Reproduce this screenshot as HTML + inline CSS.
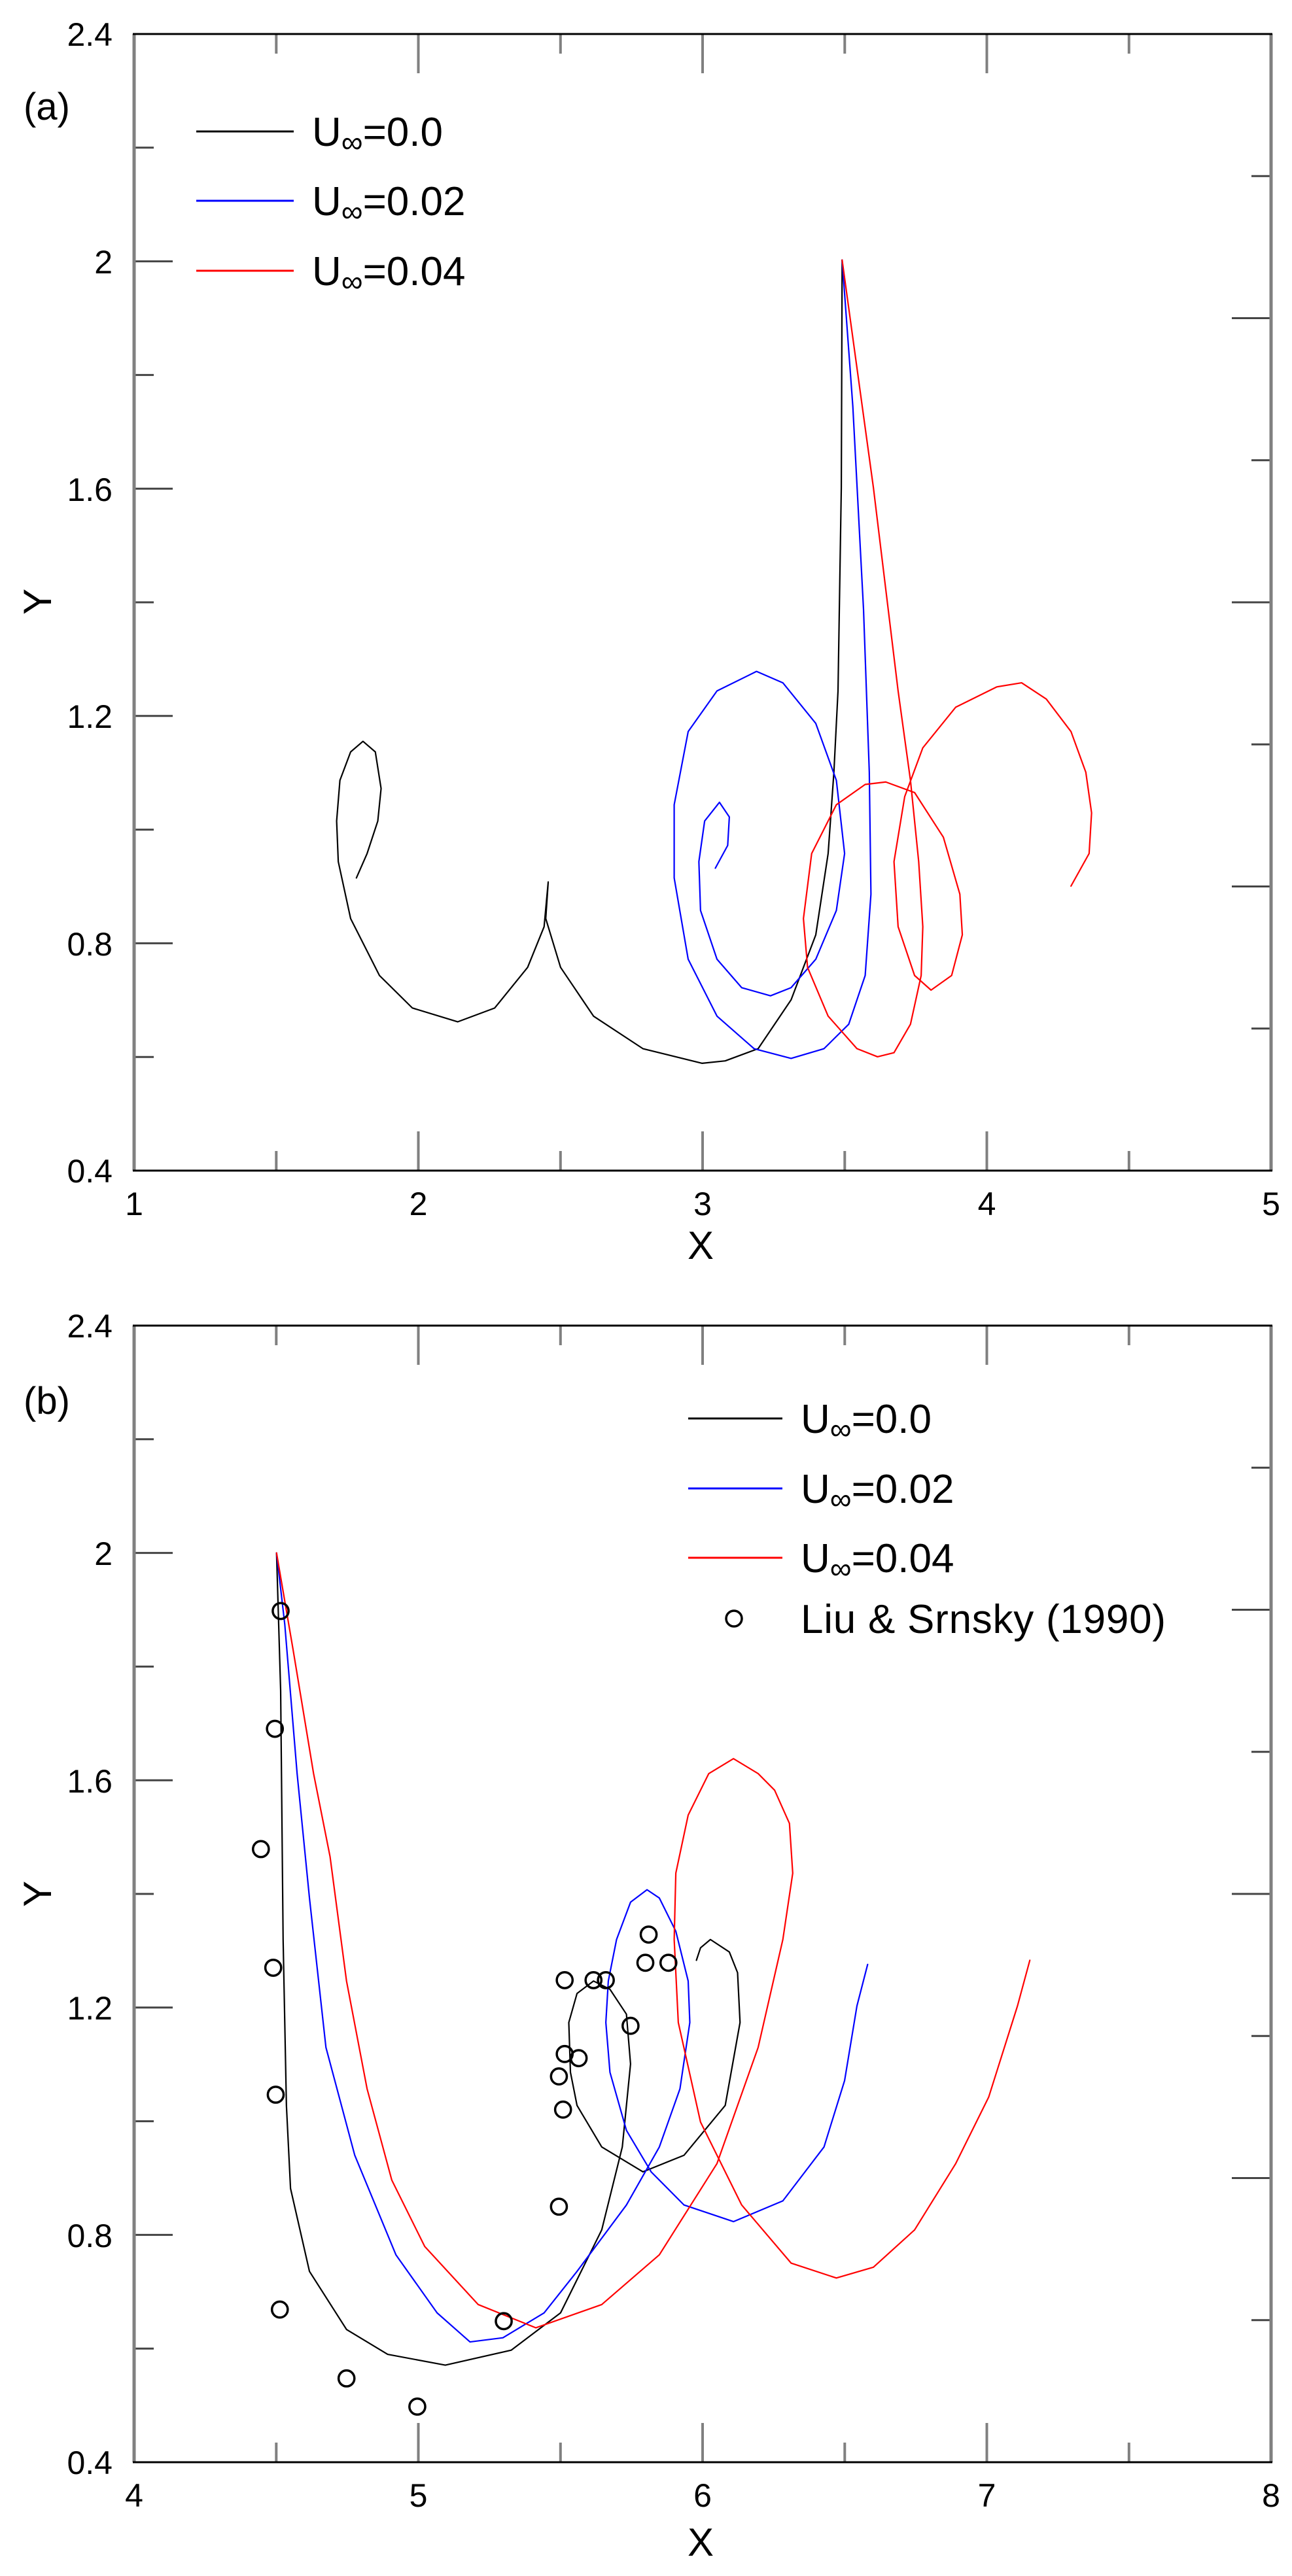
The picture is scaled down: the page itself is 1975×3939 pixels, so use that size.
<!DOCTYPE html>
<html><head><meta charset="utf-8"><style>
html,body{margin:0;padding:0;background:#fff;}
svg{display:block;}
text{font-family:"Liberation Sans",sans-serif;fill:#000;}
</style></head><body>
<svg width="1975" height="3939" viewBox="0 0 1975 3939" xmlns="http://www.w3.org/2000/svg">
<rect width="1975" height="3939" fill="#fff"/>

<!-- ===== PANEL A ===== -->
<g stroke-linecap="butt">
  <!-- left ticks (0.2 step) -->
  <g stroke="#444" stroke-width="3">
    <line x1="205" y1="225.8" x2="235" y2="225.8"/>
    <line x1="205" y1="399.6" x2="264" y2="399.6"/>
    <line x1="205" y1="573.4" x2="235" y2="573.4"/>
    <line x1="205" y1="747.2" x2="264" y2="747.2"/>
    <line x1="205" y1="921" x2="235" y2="921"/>
    <line x1="205" y1="1094.8" x2="264" y2="1094.8"/>
    <line x1="205" y1="1268.6" x2="235" y2="1268.6"/>
    <line x1="205" y1="1442.4" x2="264" y2="1442.4"/>
    <line x1="205" y1="1616.2" x2="235" y2="1616.2"/>
    <!-- right ticks (0.25 step) -->
    <line x1="1913" y1="269.3" x2="1943" y2="269.3"/>
    <line x1="1883" y1="486.5" x2="1943" y2="486.5"/>
    <line x1="1913" y1="703.8" x2="1943" y2="703.8"/>
    <line x1="1883" y1="921" x2="1943" y2="921"/>
    <line x1="1913" y1="1138.3" x2="1943" y2="1138.3"/>
    <line x1="1883" y1="1355.5" x2="1943" y2="1355.5"/>
    <line x1="1913" y1="1572.8" x2="1943" y2="1572.8"/>
  </g>
  <g stroke="#808080" stroke-width="4">
    <!-- top ticks -->
    <line x1="422.3" y1="52" x2="422.3" y2="82"/>
    <line x1="639.5" y1="52" x2="639.5" y2="112"/>
    <line x1="856.8" y1="52" x2="856.8" y2="82"/>
    <line x1="1074" y1="52" x2="1074" y2="112"/>
    <line x1="1291.3" y1="52" x2="1291.3" y2="82"/>
    <line x1="1508.5" y1="52" x2="1508.5" y2="112"/>
    <line x1="1725.8" y1="52" x2="1725.8" y2="82"/>
    <!-- bottom ticks -->
    <line x1="422.3" y1="1790" x2="422.3" y2="1760"/>
    <line x1="639.5" y1="1790" x2="639.5" y2="1730"/>
    <line x1="856.8" y1="1790" x2="856.8" y2="1760"/>
    <line x1="1074" y1="1790" x2="1074" y2="1730"/>
    <line x1="1291.3" y1="1790" x2="1291.3" y2="1760"/>
    <line x1="1508.5" y1="1790" x2="1508.5" y2="1730"/>
    <line x1="1725.8" y1="1790" x2="1725.8" y2="1760"/>
  </g>
  <line x1="205" y1="52" x2="205" y2="1790" stroke="#808080" stroke-width="5"/>
  <line x1="1943" y1="52" x2="1943" y2="1790" stroke="#808080" stroke-width="5"/>
  <line x1="203" y1="52" x2="1945" y2="52" stroke="#000" stroke-width="3"/>
  <line x1="203" y1="1790" x2="1945" y2="1790" stroke="#000" stroke-width="3"/>
</g>
<g font-size="50" text-anchor="end">
  <text x="172" y="70">2.4</text>
  <text x="172" y="418">2</text>
  <text x="172" y="766">1.6</text>
  <text x="172" y="1113">1.2</text>
  <text x="172" y="1461">0.8</text>
  <text x="172" y="1808">0.4</text>
</g>
<g font-size="50" text-anchor="middle">
  <text x="205" y="1858">1</text>
  <text x="639.5" y="1858">2</text>
  <text x="1074" y="1858">3</text>
  <text x="1508.5" y="1858">4</text>
  <text x="1943" y="1858">5</text>
  <text x="1071" y="1925" font-size="60">X</text>
</g>
<text x="0" y="0" font-size="60" text-anchor="middle" transform="translate(78,920) rotate(-90)">Y</text>
<text x="36" y="183" font-size="58">(a)</text>
<!-- legend a -->
<line x1="300" y1="201" x2="449" y2="201" stroke="#000" stroke-width="3"/>
<line x1="300" y1="307" x2="449" y2="307" stroke="#0000ff" stroke-width="3"/>
<line x1="300" y1="414" x2="449" y2="414" stroke="#ff0000" stroke-width="3"/>
<g font-size="62">
  <text x="477" y="223">U<tspan font-size="46" dy="10">∞</tspan><tspan dy="-10">=0.0</tspan></text>
  <text x="477" y="329">U<tspan font-size="46" dy="10">∞</tspan><tspan dy="-10">=0.02</tspan></text>
  <text x="477" y="436">U<tspan font-size="46" dy="10">∞</tspan><tspan dy="-10">=0.04</tspan></text>
</g>
<!-- curves a : display coords -->
<g transform="translate(205,52) scale(1.2585,1.2432) translate(-162,-42)" fill="none" stroke-width="2.2" stroke-linejoin="round" stroke-linecap="round">
  <polyline vector-effect="non-scaling-stroke" stroke="#000" points="1022,320 1021,600 1017,850 1012,950 1005,1050 990,1150 960,1230 920,1290 880,1305 852,1308 780,1290 720,1250 680,1190 662,1130 665,1085 660,1140 640,1190 600,1240 555,1257 500,1240 460,1200 425,1130 410,1060 408,1010 412,960 425,925 440,912 455,925 462,970 458,1010 445,1050 432,1080"/>
  <polyline vector-effect="non-scaling-stroke" stroke="#0000ff" points="1022,320 1035,500 1048,750 1055,950 1057,1100 1050,1200 1030,1260 1000,1290 960,1302 915,1290 870,1250 835,1180 818,1080 818,990 835,900 870,850 918,826 950,840 990,890 1015,960 1025,1050 1015,1120 990,1180 960,1215 935,1225 900,1215 870,1180 850,1120 848,1060 855,1010 873,987 885,1005 883,1040 868,1068"/>
  <polyline vector-effect="non-scaling-stroke" stroke="#ff0000" points="1022,320 1060,600 1090,850 1105,960 1115,1060 1120,1140 1118,1200 1105,1260 1085,1295 1065,1300 1040,1290 1005,1250 980,1190 975,1130 985,1050 1015,990 1050,965 1075,962 1110,975 1145,1030 1165,1100 1168,1150 1155,1200 1130,1218 1110,1200 1090,1140 1085,1060 1098,980 1120,920 1160,870 1210,845 1240,840 1270,860 1300,900 1318,950 1325,1000 1322,1050 1300,1090"/>
</g>

<!-- ===== PANEL B ===== -->
<g stroke-linecap="butt">
  <g stroke="#444" stroke-width="3">
    <line x1="205" y1="2200.8" x2="235" y2="2200.8"/>
    <line x1="205" y1="2374.6" x2="264" y2="2374.6"/>
    <line x1="205" y1="2548.4" x2="235" y2="2548.4"/>
    <line x1="205" y1="2722.2" x2="264" y2="2722.2"/>
    <line x1="205" y1="2896" x2="235" y2="2896"/>
    <line x1="205" y1="3069.8" x2="264" y2="3069.8"/>
    <line x1="205" y1="3243.6" x2="235" y2="3243.6"/>
    <line x1="205" y1="3417.4" x2="264" y2="3417.4"/>
    <line x1="205" y1="3591.2" x2="235" y2="3591.2"/>
    <line x1="1913" y1="2244.3" x2="1943" y2="2244.3"/>
    <line x1="1883" y1="2461.5" x2="1943" y2="2461.5"/>
    <line x1="1913" y1="2678.8" x2="1943" y2="2678.8"/>
    <line x1="1883" y1="2896" x2="1943" y2="2896"/>
    <line x1="1913" y1="3113.3" x2="1943" y2="3113.3"/>
    <line x1="1883" y1="3330.5" x2="1943" y2="3330.5"/>
    <line x1="1913" y1="3547.8" x2="1943" y2="3547.8"/>
  </g>
  <g stroke="#808080" stroke-width="4">
    <line x1="422.3" y1="2027" x2="422.3" y2="2057"/>
    <line x1="639.5" y1="2027" x2="639.5" y2="2087"/>
    <line x1="856.8" y1="2027" x2="856.8" y2="2057"/>
    <line x1="1074" y1="2027" x2="1074" y2="2087"/>
    <line x1="1291.3" y1="2027" x2="1291.3" y2="2057"/>
    <line x1="1508.5" y1="2027" x2="1508.5" y2="2087"/>
    <line x1="1725.8" y1="2027" x2="1725.8" y2="2057"/>
    <line x1="422.3" y1="3765" x2="422.3" y2="3735"/>
    <line x1="639.5" y1="3765" x2="639.5" y2="3705"/>
    <line x1="856.8" y1="3765" x2="856.8" y2="3735"/>
    <line x1="1074" y1="3765" x2="1074" y2="3705"/>
    <line x1="1291.3" y1="3765" x2="1291.3" y2="3735"/>
    <line x1="1508.5" y1="3765" x2="1508.5" y2="3705"/>
    <line x1="1725.8" y1="3765" x2="1725.8" y2="3735"/>
  </g>
  <line x1="205" y1="2027" x2="205" y2="3765" stroke="#808080" stroke-width="5"/>
  <line x1="1943" y1="2027" x2="1943" y2="3765" stroke="#808080" stroke-width="5"/>
  <line x1="203" y1="2027" x2="1945" y2="2027" stroke="#000" stroke-width="3"/>
  <line x1="203" y1="3765" x2="1945" y2="3765" stroke="#000" stroke-width="3"/>
</g>
<g font-size="50" text-anchor="end">
  <text x="172" y="2045">2.4</text>
  <text x="172" y="2393">2</text>
  <text x="172" y="2741">1.6</text>
  <text x="172" y="3088">1.2</text>
  <text x="172" y="3436">0.8</text>
  <text x="172" y="3783">0.4</text>
</g>
<g font-size="50" text-anchor="middle">
  <text x="205" y="3833">4</text>
  <text x="639.5" y="3833">5</text>
  <text x="1074" y="3833">6</text>
  <text x="1508.5" y="3833">7</text>
  <text x="1943" y="3833">8</text>
  <text x="1071" y="3908" font-size="60">X</text>
</g>
<text x="0" y="0" font-size="60" text-anchor="middle" transform="translate(78,2896) rotate(-90)">Y</text>
<text x="36" y="2162" font-size="58">(b)</text>
<!-- legend b -->
<line x1="1052" y1="2169" x2="1196" y2="2169" stroke="#000" stroke-width="3"/>
<line x1="1052" y1="2276" x2="1196" y2="2276" stroke="#0000ff" stroke-width="3"/>
<line x1="1052" y1="2382" x2="1196" y2="2382" stroke="#ff0000" stroke-width="3"/>
<circle cx="1122" cy="2475" r="12" fill="none" stroke="#000" stroke-width="3.5"/>
<g font-size="62">
  <text x="1224" y="2191">U<tspan font-size="46" dy="10">∞</tspan><tspan dy="-10">=0.0</tspan></text>
  <text x="1224" y="2298">U<tspan font-size="46" dy="10">∞</tspan><tspan dy="-10">=0.02</tspan></text>
  <text x="1224" y="2404">U<tspan font-size="46" dy="10">∞</tspan><tspan dy="-10">=0.04</tspan></text>
  <text x="1224" y="2497" textLength="558">Liu &amp; Srnsky (1990)</text>
</g>
<g transform="translate(205,2027) scale(1.2585,1.2686) translate(-162,-60)" fill="none" stroke-width="2.2" stroke-linejoin="round" stroke-linecap="round">
  <polyline vector-effect="non-scaling-stroke" stroke="#000" points="335,334 340,500 343,800 347,1000 352,1100 375,1200 420,1270 470,1300 540,1313 620,1295 680,1250 730,1150 755,1050 765,950 760,890 740,860 720,850 700,865 690,900 692,960 700,1000 730,1050 780,1080 830,1060 880,1000 898,900 895,840 885,815 862,800 850,810 845,825"/>
  <polyline vector-effect="non-scaling-stroke" stroke="#0000ff" points="335,334 345,420 360,600 375,750 395,930 430,1060 480,1180 530,1250 570,1285 610,1280 660,1250 700,1200 760,1120 800,1050 825,980 837,900 835,850 820,790 800,750 785,740 765,755 748,800 738,850 735,900 740,960 760,1030 790,1080 830,1120 890,1140 950,1115 1000,1050 1025,970 1040,880 1053,830"/>
  <polyline vector-effect="non-scaling-stroke" stroke="#ff0000" points="335,334 355,450 380,600 400,700 420,850 445,980 475,1090 515,1170 580,1240 650,1268 730,1240 800,1180 870,1070 920,930 950,800 962,720 958,660 940,620 920,600 890,582 860,600 835,650 820,720 818,800 823,900 850,1020 900,1120 960,1190 1015,1208 1060,1195 1110,1150 1160,1070 1200,990 1235,880 1250,825"/>
  <g stroke="#000" stroke-width="3.5">
    <circle vector-effect="non-scaling-stroke" cx="340" cy="404" r="9.6"/>
    <circle vector-effect="non-scaling-stroke" cx="333" cy="546" r="9.6"/>
    <circle vector-effect="non-scaling-stroke" cx="316" cy="691" r="9.6"/>
    <circle vector-effect="non-scaling-stroke" cx="331" cy="834" r="9.6"/>
    <circle vector-effect="non-scaling-stroke" cx="334" cy="987" r="9.6"/>
    <circle vector-effect="non-scaling-stroke" cx="339" cy="1246" r="9.6"/>
    <circle vector-effect="non-scaling-stroke" cx="420" cy="1329" r="9.6"/>
    <circle vector-effect="non-scaling-stroke" cx="506" cy="1363" r="9.6"/>
    <circle vector-effect="non-scaling-stroke" cx="611" cy="1260" r="9.6"/>
    <circle vector-effect="non-scaling-stroke" cx="678" cy="1122" r="9.6"/>
    <circle vector-effect="non-scaling-stroke" cx="683" cy="1005" r="9.6"/>
    <circle vector-effect="non-scaling-stroke" cx="678" cy="965" r="9.6"/>
    <circle vector-effect="non-scaling-stroke" cx="685" cy="938" r="9.6"/>
    <circle vector-effect="non-scaling-stroke" cx="702" cy="943" r="9.6"/>
    <circle vector-effect="non-scaling-stroke" cx="685" cy="849" r="9.6"/>
    <circle vector-effect="non-scaling-stroke" cx="720" cy="849" r="9.6"/>
    <circle vector-effect="non-scaling-stroke" cx="735" cy="849" r="9.6"/>
    <circle vector-effect="non-scaling-stroke" cx="765" cy="904" r="9.6"/>
    <circle vector-effect="non-scaling-stroke" cx="783" cy="828" r="9.6"/>
    <circle vector-effect="non-scaling-stroke" cx="787" cy="794" r="9.6"/>
    <circle vector-effect="non-scaling-stroke" cx="811" cy="828" r="9.6"/>
  </g>
</g>
</svg>
</body></html>
